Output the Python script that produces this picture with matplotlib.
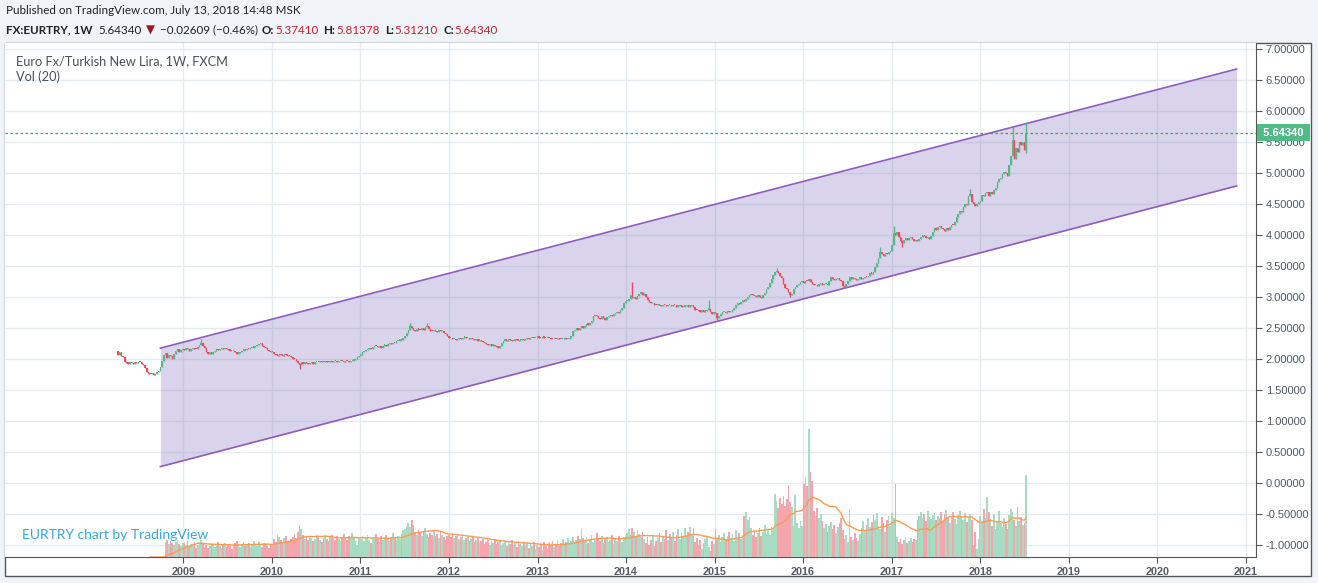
import numpy as np
import pandas as pd
import matplotlib
matplotlib.use('Agg')
import matplotlib.pyplot as plt
from matplotlib.patches import Rectangle
from matplotlib.transforms import blended_transform_factory

plt.rcParams['font.family'] = ['Liberation Sans', 'DejaVu Sans']
plt.rcParams['axes.unicode_minus'] = False

# weekly closes, FX:EURTRY, weeks start 2008-04-07
closes_2008 = [2.06, 2.10, 2.04, 2.02, 1.95, 1.93, 1.92, 1.95, 1.93, 1.91,
               1.94, 1.93, 1.95, 1.94, 1.92, 1.90, 1.85, 1.78, 1.76, 1.75,
               1.77, 1.74, 1.75, 1.78, 1.80, 1.86, 1.96, 2.06, 2.09, 2.01,
               2.06, 2.04, 2.00, 2.08, 2.12, 2.15, 2.10, 2.14, 2.16]
closes_2009 = [2.14, 2.17, 2.16, 2.13, 2.16, 2.18, 2.16, 2.15, 2.19, 2.22,
               2.25, 2.21, 2.18, 2.11, 2.08, 2.10, 2.08, 2.11, 2.13, 2.15,
               2.14, 2.16, 2.17, 2.15, 2.18, 2.16, 2.14, 2.13, 2.12, 2.13,
               2.10, 2.08, 2.09, 2.11, 2.13, 2.15, 2.14, 2.16, 2.15, 2.17,
               2.18, 2.19, 2.20, 2.22, 2.24, 2.25, 2.21, 2.19, 2.17, 2.14,
               2.12, 2.11]
closes_2010 = [2.10, 2.08, 2.06, 2.05, 2.07, 2.06, 2.05, 2.07, 2.06, 2.05,
               2.04, 2.02, 2.00, 1.99, 1.97, 1.93, 1.90, 1.95, 1.92, 1.94,
               1.93, 1.91, 1.93, 1.94, 1.92, 1.94, 1.95, 1.94, 1.96, 1.95,
               1.94, 1.96, 1.95, 1.94, 1.96, 1.95, 1.97, 1.96, 1.95, 1.96,
               1.97, 1.96, 1.95, 1.97, 1.96, 1.95, 1.96, 1.97, 1.98, 2.00,
               2.03, 2.05]
closes_2011 = [2.06, 2.10, 2.12, 2.14, 2.16, 2.17, 2.16, 2.19, 2.21, 2.20,
               2.19, 2.20, 2.18, 2.21, 2.22, 2.20, 2.23, 2.25, 2.24, 2.26,
               2.25, 2.28, 2.29, 2.31, 2.30, 2.33, 2.37, 2.41, 2.46, 2.52,
               2.49, 2.47, 2.45, 2.48, 2.47, 2.46, 2.49, 2.47, 2.51, 2.53,
               2.48, 2.45, 2.44, 2.46, 2.45, 2.43, 2.46, 2.44, 2.45, 2.42,
               2.39, 2.36]
closes_2012 = [2.34, 2.33, 2.31, 2.32, 2.30, 2.31, 2.33, 2.32, 2.34, 2.35,
               2.33, 2.34, 2.32, 2.33, 2.31, 2.30, 2.31, 2.29, 2.30, 2.28,
               2.27, 2.25, 2.24, 2.22, 2.23, 2.21, 2.22, 2.20, 2.19, 2.18,
               2.21, 2.25, 2.29, 2.30, 2.29, 2.31, 2.30, 2.28, 2.29, 2.31,
               2.30, 2.29, 2.30, 2.31, 2.30, 2.32, 2.33, 2.32, 2.33, 2.34,
               2.33, 2.34, 2.35]
closes_2013 = [2.34, 2.33, 2.35, 2.34, 2.33, 2.34, 2.33, 2.32, 2.31, 2.32,
               2.31, 2.33, 2.32, 2.31, 2.32, 2.33, 2.31, 2.32, 2.34, 2.37,
               2.44, 2.47, 2.49, 2.46, 2.50, 2.52, 2.50, 2.53, 2.56, 2.55,
               2.58, 2.60, 2.68, 2.70, 2.69, 2.66, 2.64, 2.68, 2.66, 2.63,
               2.67, 2.69, 2.70, 2.68, 2.72, 2.73, 2.75, 2.73, 2.79, 2.82,
               2.90, 2.93]
closes_2014 = [2.93, 2.97, 3.02, 2.98, 3.00, 2.97, 3.01, 3.04, 3.07, 3.03,
               3.05, 2.99, 2.94, 2.92, 2.89, 2.90, 2.87, 2.86, 2.88, 2.86,
               2.85, 2.87, 2.86, 2.85, 2.87, 2.86, 2.85, 2.87, 2.86, 2.84,
               2.85, 2.86, 2.83, 2.84, 2.85, 2.86, 2.84, 2.85, 2.86, 2.83,
               2.79, 2.78, 2.77, 2.76, 2.78, 2.76, 2.77, 2.79, 2.80, 2.76,
               2.72, 2.75]
closes_2015 = [2.74, 2.66, 2.68, 2.72, 2.75, 2.76, 2.74, 2.77, 2.75, 2.76,
               2.78, 2.82, 2.86, 2.90, 2.88, 2.91, 2.94, 2.93, 2.96, 2.99,
               3.02, 3.05, 3.03, 3.01, 2.99, 3.02, 3.00, 2.98, 3.02, 3.06,
               3.12, 3.15, 3.22, 3.28, 3.35, 3.40, 3.42, 3.38, 3.33, 3.30,
               3.20, 3.14, 3.12, 3.08, 3.03, 3.04, 3.12, 3.16, 3.18, 3.20,
               3.23, 3.25]
closes_2016 = [3.22, 3.26, 3.25, 3.28, 3.24, 3.20, 3.18, 3.19, 3.17, 3.20,
               3.22, 3.18, 3.20, 3.21, 3.19, 3.25, 3.31, 3.29, 3.27, 3.28,
               3.30, 3.27, 3.25, 3.17, 3.15, 3.20, 3.26, 3.31, 3.29, 3.30,
               3.28, 3.27, 3.29, 3.31, 3.28, 3.30, 3.32, 3.31, 3.34, 3.38,
               3.37, 3.40, 3.48, 3.55, 3.62, 3.72, 3.68, 3.65, 3.70, 3.68,
               3.72, 3.73]
closes_2017 = [3.83, 4.02, 4.00, 4.05, 3.96, 3.90, 3.86, 3.92, 3.95, 3.91,
               3.94, 3.96, 3.93, 3.90, 3.92, 3.89, 3.93, 3.96, 3.99, 3.97,
               3.94, 3.96, 3.93, 3.97, 4.05, 4.10, 4.08, 4.12, 4.14, 4.11,
               4.09, 4.06, 4.10, 4.07, 4.12, 4.16, 4.15, 4.20, 4.28, 4.33,
               4.38, 4.36, 4.44, 4.50, 4.47, 4.62, 4.66, 4.52, 4.49, 4.46,
               4.50, 4.52]
closes_2018 = [4.55, 4.64, 4.62, 4.67, 4.68, 4.63, 4.68, 4.66, 4.72, 4.76,
               4.85, 4.90, 4.92, 4.97, 5.01, 4.99, 4.95, 5.12, 5.26, 5.52,
               5.22, 5.40, 5.33, 5.49, 5.44, 5.50, 5.37, 5.6434]
first_open = 2.12

# weeks whose wicks stick out of the body
wick_high_dates = ['2009-03-16', '2011-07-25', '2011-10-03', '2014-01-27', '2014-12-08',
                   '2015-09-14', '2016-11-14', '2017-01-09', '2017-11-20', '2018-05-14',
                   '2018-07-09']
wick_highs = [2.31, 2.57, 2.57, 3.24, 2.95, 3.47, 3.80, 4.14, 4.73, 5.74, 5.81378]
wick_low_dates = ['2010-04-26', '2015-01-12', '2015-11-09', '2017-02-13', '2018-07-09']
wick_lows = [1.84, 2.62, 3.00, 3.80, 5.3121]

# weekly volume (relative units)
vol_2008 = [0, 0, 0, 0, 0, 0, 0, 0, 0, 0, 0, 0, 0, 0, 0, 0, 0, 0, 0, 0,
            0, 0, 0, 0, 0, 0, 0, 0, 15, 17, 13, 16, 14, 12, 15, 17, 13, 11, 14]
vol_2009 = [14, 12, 16, 10, 13, 11, 15, 9, 12, 14, 17, 13, 10, 12, 9, 11, 14, 12, 10, 13,
            15, 11, 9, 12, 14, 10, 13, 11, 8, 12, 14, 16, 13, 10, 12, 15, 11, 13, 14, 10,
            12, 16, 13, 11, 15, 12, 10, 14, 13, 11, 9, 12]
vol_2010 = [13, 18, 15, 22, 20, 17, 14, 19, 21, 16, 15, 18, 20, 23, 19, 25, 31, 27, 22, 18,
            20, 17, 21, 19, 16, 18, 22, 20, 17, 15, 19, 21, 18, 16, 20, 22, 19, 17, 21, 18,
            16, 20, 23, 19, 17, 21, 18, 24, 20, 16, 12, 19]
vol_2011 = [18, 21, 16, 19, 22, 17, 14, 20, 18, 23, 19, 15, 21, 17, 19, 22, 18, 16, 20, 24,
            19, 17, 21, 18, 23, 26, 27, 30, 33, 29, 36, 31, 25, 22, 26, 24, 21, 25, 28, 23,
            20, 24, 22, 26, 21, 23, 19, 25, 22, 20, 17, 21]
vol_2012 = [22, 20, 24, 19, 21, 23, 18, 20, 22, 17, 19, 21, 16, 18, 20, 15, 17, 19, 14, 16,
            18, 13, 15, 17, 12, 16, 14, 18, 13, 15, 17, 12, 14, 16, 11, 15, 13, 17, 12, 14,
            10, 16, 13, 11, 15, 12, 14, 9, 13, 11, 15, 8, 12]
vol_2013 = [10, 13, 7, 15, 11, 9, 14, 12, 16, 10, 13, 17, 11, 14, 18, 12, 15, 19, 13, 16,
            20, 14, 17, 21, 18, 27, 19, 16, 20, 14, 18, 22, 15, 17, 24, 19, 16, 21, 14, 18,
            20, 15, 17, 22, 13, 19, 16, 21, 18, 15, 20, 22]
vol_2014 = [24, 27, 22, 28, 25, 21, 26, 23, 20, 25, 18, 14, 20, 12, 17, 22, 11, 16, 19, 24,
            15, 21, 18, 26, 17, 23, 19, 25, 16, 22, 27, 18, 24, 20, 28, 21, 25, 29, 23, 28,
            15, 19, 12, 17, 8, 14, 18, 20, 10, 6, 16, 13]
vol_2015 = [27, 18, 22, 15, 20, 24, 17, 21, 25, 19, 23, 16, 26, 20, 24, 18, 22, 40, 44, 36,
            39, 28, 22, 26, 20, 24, 28, 21, 25, 31, 23, 27, 22, 29, 26, 62, 55, 48, 58, 52,
            60, 50, 57, 71, 54, 49, 30, 61, 33, 28, 35, 30]
vol_2016 = [72, 78, 70, 126, 83, 75, 45, 40, 48, 38, 42, 35, 28, 32, 25, 30, 34, 27, 31, 24,
            29, 33, 38, 26, 18, 22, 15, 47, 20, 17, 24, 19, 16, 23, 28, 35, 26, 31, 38, 29,
            34, 42, 36, 43, 30, 27, 39, 33, 25, 36, 40, 30]
vol_2017 = [43, 38, 72, 20, 15, 18, 13, 17, 20, 14, 16, 19, 15, 18, 17, 36, 40, 44, 38, 42,
            35, 45, 39, 37, 41, 43, 36, 40, 38, 44, 35, 42, 46, 38, 33, 40, 44, 37, 32, 41,
            45, 39, 36, 43, 34, 38, 42, 36, 12, 25, 8, 18]
vol_2018 = [40, 35, 47, 38, 59, 44, 37, 30, 42, 27, 35, 45, 33, 29, 38, 32, 27, 41, 47, 44,
            36, 30, 49, 35, 39, 31, 33, 80]

# parallel channel drawn on the chart
channel_dates = ['2008-09-29', '2020-11-23']
channel_upper = [2.17, 6.67]
channel_lower = [0.26, 4.785]

years = list(range(2009, 2022))
price_ticks = np.arange(-1.0, 7.01, 0.5)

closes = np.array(closes_2008 + closes_2009 + closes_2010 + closes_2011 + closes_2012 + closes_2013
                  + closes_2014 + closes_2015 + closes_2016 + closes_2017 + closes_2018)
volume = np.array(vol_2008 + vol_2009 + vol_2010 + vol_2011 + vol_2012 + vol_2013
                  + vol_2014 + vol_2015 + vol_2016 + vol_2017 + vol_2018, dtype=float)
dates = pd.date_range('2008-04-07', periods=len(closes), freq='7D')
opens = np.concatenate([[first_open], closes[:-1]])
highs = np.maximum(opens, closes)
lows = np.minimum(opens, closes)
highs[dates.get_indexer(pd.to_datetime(wick_high_dates), method='nearest')] = wick_highs
lows[dates.get_indexer(pd.to_datetime(wick_low_dates), method='nearest')] = wick_lows
up = closes >= opens
vol_ma = pd.Series(volume).rolling(20).mean()

W, H = 1318, 583
GREEN, RED = '#53b987', '#eb4d5c'
fig = plt.figure(figsize=(W / 100, H / 100), dpi=100)
fig.patch.set_facecolor('#f0f3f7')
fig.add_artist(Rectangle((5 / W, 1 - 576 / H), 1306 / W, 533 / H, transform=fig.transFigure,
                         facecolor='white', edgecolor='#555555', lw=1, zorder=-1))

ax = fig.add_axes([5 / W, 1 - 557 / H, 1251 / W, 514 / H])
# volume pane overlay (twinx first: it resets the price axis ticks to the left)
axv = ax.twinx()

ax.set_xlim(pd.Timestamp('2006-12-28'), pd.Timestamp('2021-02-11'))
ax.set_ylim(-1.198, 7.09)
for s in ['top', 'left']:
    ax.spines[s].set_visible(False)
for s in ['right', 'bottom']:
    ax.spines[s].set_color('#555555')
ax.set_axisbelow(True)
ax.grid(True, color='#e3ebf1', lw=1)

# channel
cd = pd.to_datetime(channel_dates)
ax.fill_between(cd, channel_lower, channel_upper, color='#8e7cc3', alpha=0.33, lw=0, zorder=1)
ax.plot(cd, channel_upper, color='#8e5bbf', lw=1.2, zorder=2)
ax.plot(cd, channel_lower, color='#8e5bbf', lw=1.2, zorder=2)

# candles
cols = np.where(up, GREEN, RED)
ax.vlines(dates, lows, highs, colors=cols, lw=1.0, zorder=3)
body = np.maximum(np.abs(closes - opens), 0.02)
ax.bar(dates, body, bottom=np.minimum(opens, closes), width=6, color=cols, lw=0, zorder=3)

ax.axhline(closes[-1], color='#3e9e6f', lw=0.9, dashes=(2, 2), zorder=2)

# axes ticks
ax.yaxis.tick_right()
ax.set_yticks(price_ticks)
ax.set_yticklabels(['%.5f' % v for v in price_ticks])
ax.tick_params(axis='y', direction='out', length=4, color='#555555', labelsize=8,
               labelcolor='#4f5966', pad=3, left=False, labelleft=False, right=True, labelright=True)
ax.set_xticks(pd.to_datetime(['%d-01-01' % y for y in years]))
ax.set_xticklabels([str(y) for y in years], fontweight='bold')
ax.tick_params(axis='x', direction='out', length=4, color='#555555', labelsize=7.8,
               labelcolor='#555c66', pad=3)

axv.set_ylim(0, volume.max() * 4.0)
axv.set_yticks([])
for s in axv.spines.values():
    s.set_visible(False)
vcols = np.where(up, '#a8dcc2', '#f5a5ad')
axv.bar(dates, volume, width=7, color=vcols, lw=0, zorder=1)
axv.plot(dates, vol_ma, color='#ff9a52', lw=1.0, zorder=2)

# last price tag
tr = blended_transform_factory(ax.transAxes, ax.transData)
ax.text(1.0035, closes[-1], ' %.5f ' % closes[-1], transform=tr, ha='left', va='center',
        color='white', fontsize=8, fontweight='bold', clip_on=False, zorder=6,
        bbox=dict(boxstyle='square,pad=0.3', fc=GREEN, ec='none'))


def px(x, y):
    return x / W, 1 - y / H


fig.text(*px(6, 10), 'Published on TradingView.com, July 13, 2018 14:48 MSK', fontsize=8.4,
         family=['Lato', 'DejaVu Sans'], color='#222222', va='center')

parts = [('FX:EURTRY, 1W', '#222222', 'bold', 5), ('5.64340', '#222222', 'normal', 3),
         ('▼', '#a3121d', 'normal', 4), ('\u22120.02609 (\u22120.46%)', '#222222', 'normal', 3),
         ('O:', '#222222', 'bold', 0), ('5.37410', '#c41f2d', 'normal', 4),
         ('H:', '#222222', 'bold', 0), ('5.81378', '#c41f2d', 'normal', 4),
         ('L:', '#222222', 'bold', 0), ('5.31210', '#c41f2d', 'normal', 4),
         ('C:', '#222222', 'bold', 0), ('5.64340', '#c41f2d', 'normal', 0)]
renderer = fig.canvas.get_renderer()
x = 6
for txt, c, wgt, gap in parts:
    t = fig.text(*px(x, 30), txt, fontsize=8.4, family=['Lato', 'DejaVu Sans'], color=c,
                 fontweight=wgt, va='center')
    x += t.get_window_extent(renderer=renderer).width + gap + 1

fig.text(*px(16, 61), 'Euro Fx/Turkish New Lira, 1W, FXCM', fontsize=9.2,
         family=['Lato', 'DejaVu Sans'], color='#4a4f58', va='center')
fig.text(*px(16, 77), 'Vol (20)', fontsize=9.2, family=['Lato', 'DejaVu Sans'],
         color='#4a4f58', va='center')
fig.text(*px(22, 535), 'EURTRY chart by TradingView', fontsize=10,
         family=['Lato', 'DejaVu Sans'], color='#35a7df', va='center')

fig.savefig('out.png', dpi=100, facecolor=fig.get_facecolor())
